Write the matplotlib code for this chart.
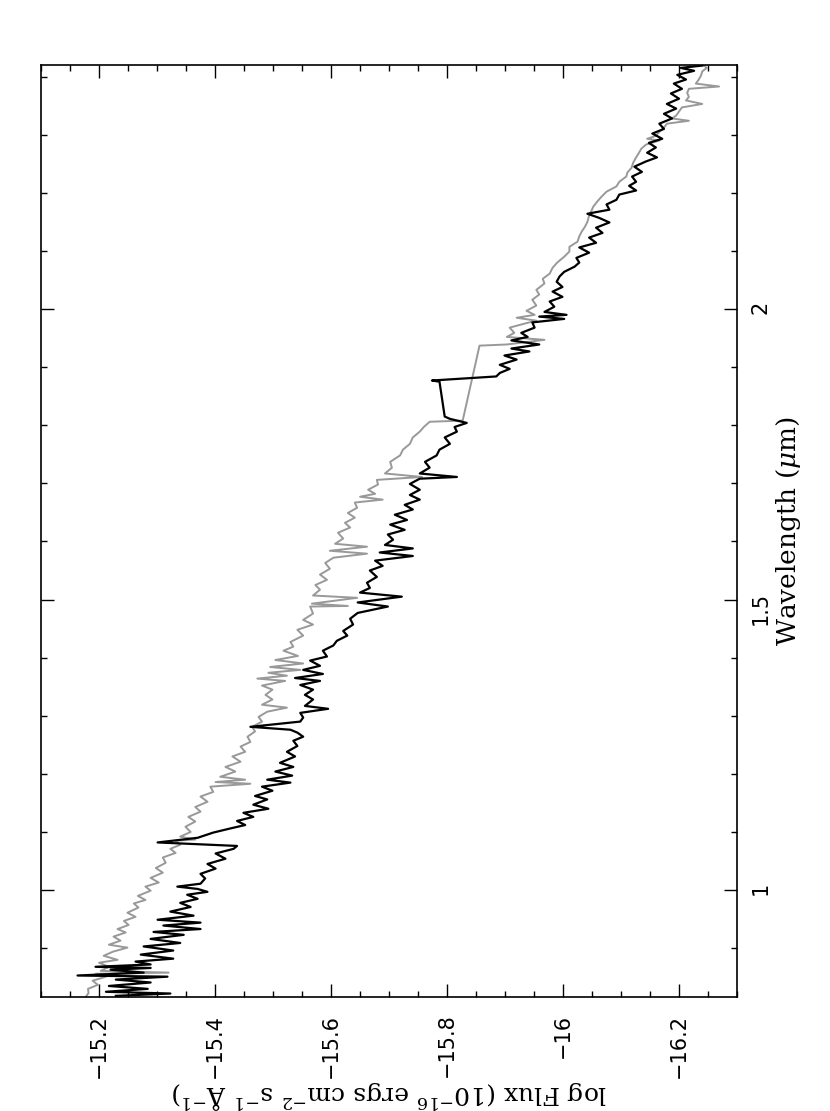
import matplotlib.pyplot as plt
from matplotlib.ticker import MultipleLocator

plt.rcParams['mathtext.fontset'] = 'dejavuserif'

# black spectrum: wavelength (micron) and log flux
wave_black = [0.818, 0.822, 0.825, 0.830, 0.835, 0.841, 0.846, 0.851, 0.853, 0.858,
              0.863, 0.866, 0.868, 0.872, 0.877, 0.882, 0.889, 0.896, 0.903, 0.909,
              0.916, 0.923, 0.928, 0.933, 0.939, 0.944, 0.949, 0.956, 0.963, 0.971,
              0.978, 0.985, 0.992, 0.997, 1.002, 1.006, 1.011, 1.020, 1.028, 1.037,
              1.045, 1.054, 1.063, 1.071, 1.076, 1.082, 1.090, 1.099, 1.106, 1.112,
              1.119, 1.126, 1.133, 1.140, 1.147, 1.156, 1.162, 1.171, 1.178, 1.185,
              1.190, 1.197, 1.204, 1.212, 1.219, 1.230, 1.238, 1.248, 1.257, 1.264,
              1.271, 1.276, 1.281, 1.290, 1.297, 1.305, 1.312, 1.317, 1.328, 1.336,
              1.345, 1.353, 1.360, 1.365, 1.372, 1.379, 1.386, 1.395, 1.402, 1.412,
              1.421, 1.429, 1.438, 1.446, 1.457, 1.467, 1.477, 1.488, 1.495, 1.505,
              1.512, 1.520, 1.529, 1.539, 1.550, 1.558, 1.567, 1.575, 1.581, 1.588,
              1.594, 1.603, 1.612, 1.620, 1.629, 1.637, 1.646, 1.655, 1.663, 1.672,
              1.680, 1.689, 1.699, 1.708, 1.711, 1.717, 1.727, 1.737, 1.748, 1.758,
              1.768, 1.779, 1.789, 1.797, 1.804, 1.811, 1.815, 1.875, 1.877, 1.884,
              1.890, 1.897, 1.904, 1.913, 1.920, 1.927, 1.932, 1.939, 1.946, 1.952,
              1.959, 1.968, 1.977, 1.983, 1.987, 1.990, 1.995, 2.004, 2.013, 2.021,
              2.030, 2.038, 2.047, 2.056, 2.064, 2.073, 2.080, 2.088, 2.097, 2.106,
              2.114, 2.123, 2.131, 2.140, 2.149, 2.157, 2.164, 2.171, 2.180, 2.188,
              2.197, 2.204, 2.212, 2.219, 2.228, 2.236, 2.245, 2.254, 2.261, 2.269,
              2.278, 2.286, 2.293, 2.302, 2.310, 2.319, 2.328, 2.336, 2.345, 2.353,
              2.362, 2.371, 2.379, 2.388, 2.395, 2.403, 2.410, 2.415, 2.419]
flux_black = [-15.229, -15.323, -15.212, -15.284, -15.217, -15.289, -15.229, -15.318, -15.163, -15.277,
              -15.220, -15.289, -15.194, -15.289, -15.263, -15.328, -15.272, -15.328, -15.277, -15.340,
              -15.289, -15.346, -15.294, -15.375, -15.311, -15.375, -15.301, -15.363, -15.323, -15.358,
              -15.340, -15.370, -15.352, -15.387, -15.370, -15.335, -15.375, -15.383, -15.375, -15.401,
              -15.387, -15.418, -15.401, -15.432, -15.438, -15.301, -15.370, -15.397, -15.426, -15.452,
              -15.438, -15.466, -15.449, -15.492, -15.466, -15.490, -15.469, -15.499, -15.481, -15.530,
              -15.490, -15.533, -15.504, -15.535, -15.512, -15.538, -15.524, -15.542, -15.535, -15.552,
              -15.542, -15.530, -15.461, -15.547, -15.552, -15.547, -15.595, -15.555, -15.569, -15.555,
              -15.569, -15.547, -15.581, -15.538, -15.586, -15.552, -15.581, -15.564, -15.593, -15.586,
              -15.604, -15.610, -15.628, -15.621, -15.638, -15.633, -15.646, -15.698, -15.646, -15.722,
              -15.650, -15.667, -15.662, -15.679, -15.667, -15.689, -15.676, -15.741, -15.684, -15.741,
              -15.693, -15.707, -15.698, -15.727, -15.702, -15.731, -15.710, -15.741, -15.727, -15.753,
              -15.736, -15.753, -15.736, -15.753, -15.817, -15.753, -15.770, -15.762, -15.782, -15.787,
              -15.805, -15.796, -15.817, -15.813, -15.834, -15.805, -15.796, -15.787, -15.774, -15.885,
              -15.891, -15.908, -15.891, -15.920, -15.899, -15.942, -15.911, -15.959, -15.911, -15.939,
              -15.928, -15.951, -15.947, -16.002, -15.959, -16.006, -15.968, -15.985, -15.977, -15.999,
              -15.982, -15.999, -15.989, -15.994, -16.002, -16.020, -16.028, -16.023, -16.045, -16.028,
              -16.057, -16.045, -16.068, -16.057, -16.080, -16.062, -16.042, -16.080, -16.075, -16.092,
              -16.097, -16.126, -16.114, -16.126, -16.119, -16.136, -16.123, -16.143, -16.162, -16.145,
              -16.160, -16.148, -16.171, -16.154, -16.174, -16.166, -16.188, -16.174, -16.195, -16.179,
              -16.200, -16.186, -16.205, -16.191, -16.212, -16.197, -16.226, -16.203, -16.240]

# grey spectrum
wave_gray = [0.816, 0.823, 0.830, 0.837, 0.844, 0.851, 0.856, 0.858, 0.861, 0.868,
             0.875, 0.880, 0.887, 0.894, 0.901, 0.906, 0.913, 0.920, 0.927, 0.933,
             0.940, 0.947, 0.954, 0.961, 0.970, 0.977, 0.983, 0.990, 0.999, 1.006,
             1.013, 1.021, 1.030, 1.038, 1.047, 1.056, 1.064, 1.071, 1.078, 1.085,
             1.087, 1.092, 1.100, 1.109, 1.118, 1.126, 1.135, 1.143, 1.152, 1.161,
             1.169, 1.178, 1.183, 1.186, 1.190, 1.195, 1.204, 1.212, 1.221, 1.230,
             1.238, 1.247, 1.255, 1.264, 1.273, 1.281, 1.290, 1.298, 1.307, 1.314,
             1.319, 1.328, 1.336, 1.345, 1.352, 1.360, 1.364, 1.369, 1.374, 1.379,
             1.384, 1.390, 1.396, 1.403, 1.412, 1.419, 1.427, 1.438, 1.448, 1.457,
             1.465, 1.476, 1.488, 1.489, 1.493, 1.503, 1.507, 1.517, 1.525, 1.534,
             1.543, 1.553, 1.563, 1.572, 1.579, 1.584, 1.591, 1.596, 1.605, 1.615,
             1.624, 1.632, 1.641, 1.649, 1.658, 1.667, 1.672, 1.677, 1.682, 1.689,
             1.698, 1.706, 1.711, 1.717, 1.727, 1.737, 1.748, 1.758, 1.768, 1.779,
             1.789, 1.797, 1.806, 1.808, 1.937, 1.939, 1.947, 1.952, 1.959, 1.968,
             1.975, 1.980, 1.985, 1.990, 1.997, 2.006, 2.016, 2.025, 2.033, 2.044,
             2.052, 2.061, 2.071, 2.080, 2.090, 2.099, 2.107, 2.116, 2.125, 2.133,
             2.142, 2.150, 2.161, 2.169, 2.176, 2.185, 2.193, 2.202, 2.211, 2.219,
             2.228, 2.235, 2.243, 2.252, 2.261, 2.269, 2.276, 2.283, 2.290, 2.293,
             2.298, 2.305, 2.312, 2.319, 2.324, 2.328, 2.333, 2.340, 2.347, 2.353,
             2.359, 2.365, 2.372, 2.379, 2.383, 2.388, 2.395, 2.402, 2.409, 2.415,
             2.421]
flux_gray = [-15.177, -15.182, -15.181, -15.198, -15.189, -15.212, -15.194, -15.320, -15.203, -15.217,
             -15.200, -15.232, -15.208, -15.224, -15.249, -15.217, -15.237, -15.225, -15.246, -15.232,
             -15.251, -15.243, -15.263, -15.249, -15.268, -15.260, -15.280, -15.267, -15.289, -15.280,
             -15.303, -15.289, -15.310, -15.298, -15.315, -15.310, -15.332, -15.323, -15.340, -15.332,
             -15.366, -15.340, -15.358, -15.349, -15.366, -15.354, -15.375, -15.366, -15.387, -15.375,
             -15.397, -15.392, -15.461, -15.401, -15.452, -15.409, -15.435, -15.418, -15.444, -15.430,
             -15.452, -15.444, -15.461, -15.456, -15.469, -15.464, -15.481, -15.475, -15.490, -15.524,
             -15.481, -15.499, -15.487, -15.499, -15.481, -15.521, -15.473, -15.524, -15.492, -15.547,
             -15.495, -15.552, -15.504, -15.543, -15.518, -15.535, -15.530, -15.552, -15.542, -15.569,
             -15.552, -15.569, -15.564, -15.629, -15.567, -15.645, -15.569, -15.581, -15.573, -15.593,
             -15.581, -15.598, -15.590, -15.604, -15.662, -15.598, -15.662, -15.607, -15.621, -15.612,
             -15.633, -15.624, -15.641, -15.629, -15.645, -15.641, -15.689, -15.650, -15.676, -15.664,
             -15.681, -15.679, -15.757, -15.693, -15.705, -15.702, -15.719, -15.724, -15.736, -15.741,
             -15.753, -15.760, -15.770, -15.827, -15.856, -15.903, -15.968, -15.903, -15.916, -15.908,
             -15.934, -15.954, -15.920, -15.951, -15.937, -15.954, -15.947, -15.959, -15.954, -15.968,
             -15.965, -15.977, -15.982, -15.990, -16.002, -16.011, -16.011, -16.025, -16.028, -16.032,
             -16.038, -16.042, -16.045, -16.049, -16.052, -16.059, -16.066, -16.075, -16.092, -16.097,
             -16.109, -16.111, -16.118, -16.121, -16.126, -16.131, -16.135, -16.143, -16.166, -16.145,
             -16.160, -16.166, -16.174, -16.179, -16.217, -16.188, -16.195, -16.200, -16.205, -16.240,
             -16.212, -16.217, -16.214, -16.217, -16.269, -16.229, -16.234, -16.238, -16.240, -16.248,
             -16.240]

flux_ticks = [-15.2, -15.4, -15.6, -15.8, -16.0, -16.2]
flux_labels = ['\u221215.2', '\u221215.4', '\u221215.6', '\u221215.8', '\u221216', '\u221216.2']
wave_ticks = [1.0, 1.5, 2.0]
wave_labels = ['1', '1.5', '2']

fig = plt.figure(figsize=(8.3, 11.11), dpi=100)
ax = fig.add_axes([0.0494, 0.1026, 0.8386, 0.8389])

ax.plot(flux_gray, wave_gray, color='#999999', lw=1.4)
ax.plot(flux_black, wave_black, color='black', lw=1.6)

ax.set_xlim(-15.1, -16.3)
ax.set_ylim(0.816, 2.42)

ax.set_xticks(flux_ticks)
ax.set_xticklabels(flux_labels)
ax.xaxis.set_minor_locator(MultipleLocator(0.05))
ax.set_yticks(wave_ticks)
ax.set_yticklabels(wave_labels)
ax.yaxis.set_minor_locator(MultipleLocator(0.1))

ax.tick_params(which='both', direction='in', top=True, bottom=True, left=True, right=True,
               labelleft=False, labelright=True, width=1.0)
ax.tick_params(which='major', length=9.5)
ax.tick_params(which='minor', length=4.5)
ax.tick_params(axis='x', labelrotation=90, pad=12, labelsize=15)
ax.tick_params(axis='y', labelrotation=90, pad=10, labelsize=15)
for s in ax.spines.values():
    s.set_linewidth(1.2)

ax.yaxis.set_label_position('right')
ax.set_ylabel(r'Wavelength ($\mu$m)', rotation=90, fontfamily='DejaVu Serif',
              fontsize=19, labelpad=2)
ax.set_xlabel(r'log Flux (10$^{-16}$ ergs cm$^{-2}$ s$^{-1}$ Å$^{-1}$)', rotation=180,
              fontfamily='DejaVu Serif', fontsize=18, labelpad=1)

fig.savefig('out.png', dpi=100)
